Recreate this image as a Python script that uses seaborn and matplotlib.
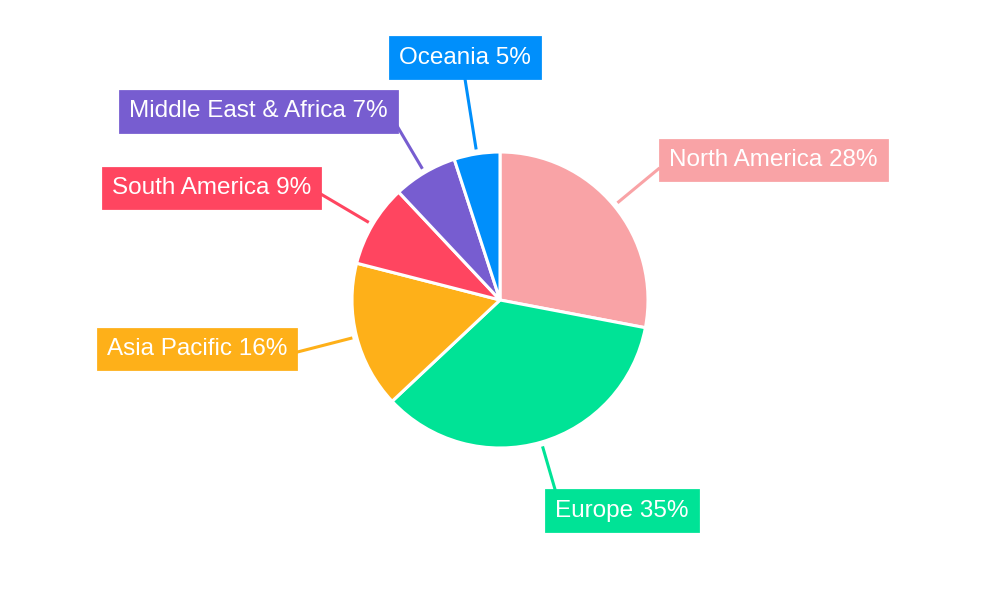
import numpy as np
import matplotlib
matplotlib.use('Agg')
import matplotlib.pyplot as plt
import seaborn as sns

# Данные
regions = ["North America", "Europe", "Asia Pacific", "South America",
           "Middle East & Africa", "Oceania"]
shares = [28, 35, 16, 9, 7, 5]
colors = ["#F9A3A6", "#00E396", "#FEB019", "#FF4560", "#775DD0", "#008FFB"]

# Длина выносных линий (в радиусах пирога)
label_radius = [1.40, 1.34, 1.42, 1.41, 1.37, 1.52]

sns.set_theme(style="white")
plt.rcParams['font.family'] = ['Liberation Sans', 'DejaVu Sans']

fig = plt.figure(figsize=(10, 6), dpi=100)
ax = fig.add_axes([0, 0, 1, 1])
R = 148.0

wedges, _ = ax.pie(
    shares,
    colors=colors,
    startangle=90,
    counterclock=False,
    radius=1.0,
    wedgeprops={"edgecolor": "white", "linewidth": 2.2},
)

fs = 17.5
pad = 0.38
pad_pt = pad * fs

# Подписи с выносными линиями
for w, name, val, col, r1 in zip(wedges, regions, shares, colors, label_radius):
    ang = np.deg2rad((w.theta1 + w.theta2) / 2)
    c, s = np.cos(ang), np.sin(ang)
    r0 = 1.03
    ax.plot([r0 * c, r1 * c], [r0 * s, r1 * s], color=col, lw=2.2,
            solid_capstyle='butt', zorder=1)
    if s > 0.9:
        va, dy = 'bottom', pad_pt
    elif s < -0.9:
        va, dy = 'top', -pad_pt
    else:
        va, dy = 'center', 2.5 + 12 * s ** 3
    if abs(c) < 0.2:
        ha, dx = 'center', 0
    elif c > 0:
        ha, dx = 'left', pad_pt if va == 'center' else 0
    else:
        ha, dx = 'right', -pad_pt if va == 'center' else 0
    ax.annotate(f"{name} {val}%", xy=(r1 * c, r1 * s),
                xytext=(dx, dy), textcoords='offset points',
                ha=ha, va=va, color="white", fontsize=fs,
                bbox=dict(boxstyle=f"square,pad={pad}", fc=col, ec=col, lw=2),
                zorder=3)

ax.set_xlim(-500 / R, 500 / R)
ax.set_ylim(-300 / R, 300 / R)
ax.set_aspect('equal')
ax.axis('off')

plt.savefig("out.png", dpi=100, facecolor="white")
plt.close()
